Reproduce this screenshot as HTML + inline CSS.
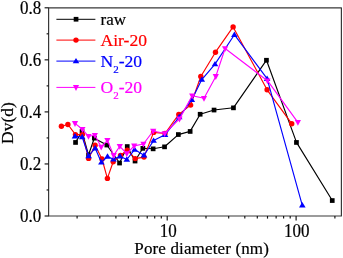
<!DOCTYPE html>
<html><head><meta charset="utf-8"><style>
html,body{margin:0;padding:0;background:#fff;}
body{width:343px;height:258px;overflow:hidden;}
svg{display:block;font-family:"Liberation Serif",serif;will-change:transform;}
text{stroke-width:0.2px;}
</style></head><body>
<svg width="343" height="258" viewBox="0 0 343 258">
<rect x="48.6" y="7.8" width="292.8" height="208.2" fill="none" stroke="#383838" stroke-width="1.2" stroke-linejoin="round"/>
<line x1="44.6" y1="216.00" x2="48.6" y2="216.00" stroke="#111" stroke-width="1.15"/>
<line x1="46.6" y1="189.97" x2="48.6" y2="189.97" stroke="#111" stroke-width="1.15"/>
<line x1="44.6" y1="163.95" x2="48.6" y2="163.95" stroke="#111" stroke-width="1.15"/>
<line x1="46.6" y1="137.93" x2="48.6" y2="137.93" stroke="#111" stroke-width="1.15"/>
<line x1="44.6" y1="111.90" x2="48.6" y2="111.90" stroke="#111" stroke-width="1.15"/>
<line x1="46.6" y1="85.88" x2="48.6" y2="85.88" stroke="#111" stroke-width="1.15"/>
<line x1="44.6" y1="59.85" x2="48.6" y2="59.85" stroke="#111" stroke-width="1.15"/>
<line x1="46.6" y1="33.82" x2="48.6" y2="33.82" stroke="#111" stroke-width="1.15"/>
<line x1="44.6" y1="7.80" x2="48.6" y2="7.80" stroke="#111" stroke-width="1.15"/>
<line x1="77.10" y1="216" x2="77.10" y2="218.6" stroke="#111" stroke-width="1.15"/>
<line x1="99.80" y1="216" x2="99.80" y2="218.6" stroke="#111" stroke-width="1.15"/>
<line x1="115.91" y1="216" x2="115.91" y2="218.6" stroke="#111" stroke-width="1.15"/>
<line x1="128.40" y1="216" x2="128.40" y2="218.6" stroke="#111" stroke-width="1.15"/>
<line x1="138.60" y1="216" x2="138.60" y2="218.6" stroke="#111" stroke-width="1.15"/>
<line x1="147.23" y1="216" x2="147.23" y2="218.6" stroke="#111" stroke-width="1.15"/>
<line x1="154.71" y1="216" x2="154.71" y2="218.6" stroke="#111" stroke-width="1.15"/>
<line x1="161.30" y1="216" x2="161.30" y2="218.6" stroke="#111" stroke-width="1.15"/>
<line x1="167.20" y1="216" x2="167.20" y2="220.6" stroke="#111" stroke-width="1.15"/>
<line x1="206.00" y1="216" x2="206.00" y2="218.6" stroke="#111" stroke-width="1.15"/>
<line x1="228.70" y1="216" x2="228.70" y2="218.6" stroke="#111" stroke-width="1.15"/>
<line x1="244.81" y1="216" x2="244.81" y2="218.6" stroke="#111" stroke-width="1.15"/>
<line x1="257.30" y1="216" x2="257.30" y2="218.6" stroke="#111" stroke-width="1.15"/>
<line x1="267.50" y1="216" x2="267.50" y2="218.6" stroke="#111" stroke-width="1.15"/>
<line x1="276.13" y1="216" x2="276.13" y2="218.6" stroke="#111" stroke-width="1.15"/>
<line x1="283.61" y1="216" x2="283.61" y2="218.6" stroke="#111" stroke-width="1.15"/>
<line x1="290.20" y1="216" x2="290.20" y2="218.6" stroke="#111" stroke-width="1.15"/>
<line x1="296.10" y1="216" x2="296.10" y2="220.6" stroke="#111" stroke-width="1.15"/>
<line x1="334.90" y1="216" x2="334.90" y2="218.6" stroke="#111" stroke-width="1.15"/>
<polyline fill="none" stroke="#000" stroke-width="1.15" stroke-linejoin="round" points="75.5,142.4 82.0,131.6 88.5,155.0 94.3,138.2 106.8,145.0 119.6,163.0 127.2,146.6 135.0,161.0 142.8,148.3 153.2,148.8 164.6,146.8 178.3,134.6 190.1,131.4 200.2,114.2 214.0,110.0 233.4,107.8 266.5,60.2 296.5,142.4 332.3,200.5"/>
<rect x="73.2" y="140.1" width="4.7" height="4.7" fill="#000"/>
<rect x="79.7" y="129.2" width="4.7" height="4.7" fill="#000"/>
<rect x="86.2" y="152.7" width="4.7" height="4.7" fill="#000"/>
<rect x="92.0" y="135.8" width="4.7" height="4.7" fill="#000"/>
<rect x="104.5" y="142.7" width="4.7" height="4.7" fill="#000"/>
<rect x="117.2" y="160.7" width="4.7" height="4.7" fill="#000"/>
<rect x="124.9" y="144.2" width="4.7" height="4.7" fill="#000"/>
<rect x="132.7" y="158.7" width="4.7" height="4.7" fill="#000"/>
<rect x="140.5" y="146.0" width="4.7" height="4.7" fill="#000"/>
<rect x="150.8" y="146.5" width="4.7" height="4.7" fill="#000"/>
<rect x="162.2" y="144.5" width="4.7" height="4.7" fill="#000"/>
<rect x="176.0" y="132.2" width="4.7" height="4.7" fill="#000"/>
<rect x="187.8" y="129.1" width="4.7" height="4.7" fill="#000"/>
<rect x="197.8" y="111.9" width="4.7" height="4.7" fill="#000"/>
<rect x="211.7" y="107.7" width="4.7" height="4.7" fill="#000"/>
<rect x="231.1" y="105.5" width="4.7" height="4.7" fill="#000"/>
<rect x="264.1" y="57.9" width="4.7" height="4.7" fill="#000"/>
<rect x="294.1" y="140.1" width="4.7" height="4.7" fill="#000"/>
<rect x="329.9" y="198.2" width="4.7" height="4.7" fill="#000"/>
<polyline fill="none" stroke="#f00" stroke-width="1.15" stroke-linejoin="round" points="61.4,126.2 67.9,124.5 75.5,134.6 82.4,134.6 88.6,158.4 95.1,145.3 102.0,159.0 107.4,178.4 113.2,161.8 120.5,155.5 127.2,150.1 135.2,158.6 144.0,157.1 153.6,132.4 165.0,133.5 178.8,114.4 190.6,105.1 200.8,76.5 215.5,52.2 233.1,26.9 267.1,89.8 291.7,123.7"/>
<circle cx="61.4" cy="126.2" r="2.7" fill="#f00"/>
<circle cx="67.9" cy="124.5" r="2.7" fill="#f00"/>
<circle cx="75.5" cy="134.6" r="2.7" fill="#f00"/>
<circle cx="82.4" cy="134.6" r="2.7" fill="#f00"/>
<circle cx="88.6" cy="158.4" r="2.7" fill="#f00"/>
<circle cx="95.1" cy="145.3" r="2.7" fill="#f00"/>
<circle cx="102.0" cy="159.0" r="2.7" fill="#f00"/>
<circle cx="107.4" cy="178.4" r="2.7" fill="#f00"/>
<circle cx="113.2" cy="161.8" r="2.7" fill="#f00"/>
<circle cx="120.5" cy="155.5" r="2.7" fill="#f00"/>
<circle cx="127.2" cy="150.1" r="2.7" fill="#f00"/>
<circle cx="135.2" cy="158.6" r="2.7" fill="#f00"/>
<circle cx="144.0" cy="157.1" r="2.7" fill="#f00"/>
<circle cx="153.6" cy="132.4" r="2.7" fill="#f00"/>
<circle cx="165.0" cy="133.5" r="2.7" fill="#f00"/>
<circle cx="178.8" cy="114.4" r="2.7" fill="#f00"/>
<circle cx="190.6" cy="105.1" r="2.7" fill="#f00"/>
<circle cx="200.8" cy="76.5" r="2.7" fill="#f00"/>
<circle cx="215.5" cy="52.2" r="2.7" fill="#f00"/>
<circle cx="233.1" cy="26.9" r="2.7" fill="#f00"/>
<circle cx="267.1" cy="89.8" r="2.7" fill="#f00"/>
<circle cx="291.7" cy="123.7" r="2.7" fill="#f00"/>
<polyline fill="none" stroke="#00f" stroke-width="1.15" stroke-linejoin="round" points="75.0,136.3 82.2,137.0 88.6,156.0 95.2,148.2 101.4,162.4 107.5,156.5 113.5,159.2 120.0,156.2 126.8,159.5 134.6,149.6 144.0,155.3 153.6,140.6 165.0,134.8 179.2,117.0 191.8,99.8 201.8,79.6 215.0,64.1 234.4,34.7 267.1,78.7 302.3,205.3"/>
<polygon points="75.0,133.1 71.7,138.5 78.3,138.5" fill="#00f"/>
<polygon points="82.2,133.8 78.9,139.2 85.5,139.2" fill="#00f"/>
<polygon points="88.6,152.8 85.3,158.2 91.9,158.2" fill="#00f"/>
<polygon points="95.2,145.0 91.9,150.4 98.5,150.4" fill="#00f"/>
<polygon points="101.4,159.2 98.1,164.6 104.7,164.6" fill="#00f"/>
<polygon points="107.5,153.3 104.2,158.7 110.8,158.7" fill="#00f"/>
<polygon points="113.5,156.0 110.2,161.4 116.8,161.4" fill="#00f"/>
<polygon points="120.0,153.0 116.7,158.4 123.3,158.4" fill="#00f"/>
<polygon points="126.8,156.3 123.5,161.7 130.1,161.7" fill="#00f"/>
<polygon points="134.6,146.4 131.3,151.8 137.9,151.8" fill="#00f"/>
<polygon points="144.0,152.1 140.7,157.5 147.3,157.5" fill="#00f"/>
<polygon points="153.6,137.4 150.3,142.8 156.9,142.8" fill="#00f"/>
<polygon points="165.0,131.6 161.7,137.0 168.3,137.0" fill="#00f"/>
<polygon points="179.2,113.8 175.9,119.2 182.5,119.2" fill="#00f"/>
<polygon points="191.8,96.6 188.5,102.0 195.1,102.0" fill="#00f"/>
<polygon points="201.8,76.4 198.5,81.8 205.1,81.8" fill="#00f"/>
<polygon points="215.0,60.9 211.7,66.3 218.3,66.3" fill="#00f"/>
<polygon points="234.4,31.5 231.1,36.9 237.7,36.9" fill="#00f"/>
<polygon points="267.1,75.5 263.8,80.9 270.4,80.9" fill="#00f"/>
<polygon points="302.3,202.1 299.0,207.5 305.6,207.5" fill="#00f"/>
<polyline fill="none" stroke="#f0f" stroke-width="1.15" stroke-linejoin="round" points="75.0,123.4 82.4,129.3 88.5,136.3 94.9,135.2 101.2,147.0 107.4,140.3 113.7,155.4 119.8,146.3 126.8,153.6 134.2,145.9 143.4,144.0 153.2,131.0 164.7,133.5 179.5,118.9 192.2,95.8 204.0,98.2 215.8,76.4 225.1,48.5 267.5,80.7 297.9,122.3"/>
<polygon points="75.0,126.9 71.9,121.1 78.1,121.1" fill="#f0f"/>
<polygon points="82.4,132.8 79.3,127.0 85.5,127.0" fill="#f0f"/>
<polygon points="88.5,139.8 85.4,134.0 91.6,134.0" fill="#f0f"/>
<polygon points="94.9,138.7 91.8,132.9 98.0,132.9" fill="#f0f"/>
<polygon points="101.2,150.5 98.1,144.7 104.3,144.7" fill="#f0f"/>
<polygon points="107.4,143.8 104.3,138.0 110.5,138.0" fill="#f0f"/>
<polygon points="113.7,158.9 110.6,153.1 116.8,153.1" fill="#f0f"/>
<polygon points="119.8,149.8 116.7,144.0 122.9,144.0" fill="#f0f"/>
<polygon points="126.8,157.1 123.7,151.3 129.9,151.3" fill="#f0f"/>
<polygon points="134.2,149.4 131.1,143.6 137.3,143.6" fill="#f0f"/>
<polygon points="143.4,147.5 140.3,141.7 146.5,141.7" fill="#f0f"/>
<polygon points="153.2,134.5 150.1,128.7 156.3,128.7" fill="#f0f"/>
<polygon points="164.7,137.0 161.6,131.2 167.8,131.2" fill="#f0f"/>
<polygon points="179.5,122.4 176.4,116.6 182.6,116.6" fill="#f0f"/>
<polygon points="192.2,99.3 189.1,93.5 195.3,93.5" fill="#f0f"/>
<polygon points="204.0,101.7 200.9,95.9 207.1,95.9" fill="#f0f"/>
<polygon points="215.8,79.9 212.7,74.1 218.9,74.1" fill="#f0f"/>
<polygon points="225.1,52.0 222.0,46.2 228.2,46.2" fill="#f0f"/>
<polygon points="267.5,84.2 264.4,78.4 270.6,78.4" fill="#f0f"/>
<polygon points="297.9,125.8 294.8,120.0 301.0,120.0" fill="#f0f"/>
<line x1="56.4" y1="19.3" x2="95.4" y2="19.3" stroke="#000" stroke-width="1"/>
<rect x="73.7" y="16.9" width="4.7" height="4.7" fill="#000"/>
<line x1="56.4" y1="40.1" x2="95.4" y2="40.1" stroke="#f00" stroke-width="1"/>
<circle cx="76.0" cy="40.1" r="2.7" fill="#f00"/>
<line x1="56.4" y1="61.1" x2="95.4" y2="61.1" stroke="#00f" stroke-width="1"/>
<polygon points="76.0,57.9 72.7,63.3 79.3,63.3" fill="#00f"/>
<line x1="56.4" y1="87.4" x2="95.4" y2="87.4" stroke="#f0f" stroke-width="1"/>
<polygon points="76.0,90.9 72.9,85.1 79.1,85.1" fill="#f0f"/>
<text stroke="#000" transform="translate(41.3,222.20) scale(1,1.06)" font-size="17" text-anchor="end">0.0</text>
<text stroke="#000" transform="translate(41.3,170.15) scale(1,1.06)" font-size="17" text-anchor="end">0.2</text>
<text stroke="#000" transform="translate(41.3,118.10) scale(1,1.06)" font-size="17" text-anchor="end">0.4</text>
<text stroke="#000" transform="translate(41.3,66.05) scale(1,1.06)" font-size="17" text-anchor="end">0.6</text>
<text stroke="#000" transform="translate(41.3,14.00) scale(1,1.06)" font-size="17" text-anchor="end">0.8</text>
<text stroke="#000" transform="translate(168.2,237.2) scale(1,1.06)" font-size="17" text-anchor="middle">10</text>
<text stroke="#000" transform="translate(296.7,237.2) scale(1,1.06)" font-size="17" text-anchor="middle">100</text>
<text stroke="#000" x="134.3" y="254" font-size="17" textLength="134.6" lengthAdjust="spacing">Pore diameter (nm)</text>
<text stroke="#000" x="0" y="0" transform="translate(13.3,123.0) rotate(-90)" font-size="17.5" text-anchor="middle">Dv(d)</text>
<text stroke="#000" x="100.5" y="25" fill="#000" font-size="17" text-anchor="start">raw</text>
<text stroke="#f00" x="100.5" y="45.6" fill="#f00" font-size="17.6" text-anchor="start">Air-20</text>
<text stroke="#00f" x="100.5" y="66.5" fill="#00f" font-size="17.6">N<tspan font-size="11" dy="6.5">2</tspan><tspan dy="-6.5">-20</tspan></text>
<text stroke="#f0f" x="100.5" y="92.8" fill="#f0f" font-size="17.6">O<tspan font-size="11" dy="6.5">2</tspan><tspan dy="-6.5">-20</tspan></text>
</svg>
</body></html>
